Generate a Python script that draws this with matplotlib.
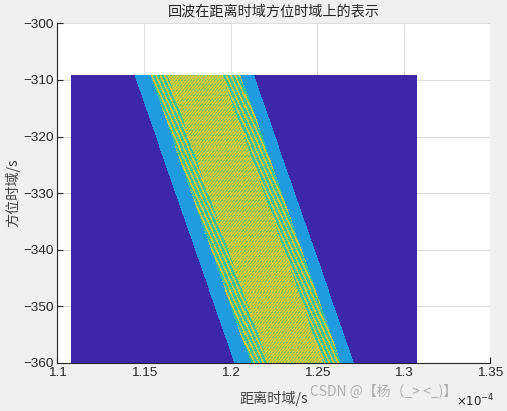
import numpy as np
import matplotlib.pyplot as plt
from matplotlib.colors import LinearSegmentedColormap

# axis ranges / ticks
x_ticks = [1.1, 1.15, 1.2, 1.25, 1.3, 1.35]
y_ticks = [-360, -350, -340, -330, -320, -310, -300]

# image extent (range time x1e-4 s, azimuth time s)
img_x = [1.1076, 1.3072]
img_y = [-360.0, -309.2]

# band edges at the top row (x1e-4 s) and drift to the bottom row
edges_top = [1.1442, 1.1535, 1.1633, 1.1951, 1.2055, 1.2130]
edge_drift = 0.0578
# level in each zone: outside, light blue, stripes, centre, stripes, light blue
zone_level = [0.0, 0.27, 0.52, 0.84, 0.52, 0.27, 0.0]

parula = LinearSegmentedColormap.from_list('parula', [
    (0.00, (0.2422, 0.1504, 0.6603)),
    (0.12, (0.2783, 0.3323, 0.9709)),
    (0.25, (0.1300, 0.5900, 0.9000)),
    (0.38, (0.0650, 0.7190, 0.8000)),
    (0.50, (0.1800, 0.7600, 0.6300)),
    (0.62, (0.4700, 0.7800, 0.4300)),
    (0.75, (0.7800, 0.7600, 0.2400)),
    (0.87, (0.9300, 0.7800, 0.2000)),
    (1.00, (0.9769, 0.9839, 0.0805)),
])

nx, ny = 345, 286
xs = np.linspace(img_x[0], img_x[1], nx)
ys = np.linspace(0, 1, ny)  # 0 = top row
X, T = np.meshgrid(xs, ys)
I, J = np.meshgrid(np.arange(nx), np.arange(ny))
pos = X - T * edge_drift
zone = np.searchsorted(edges_top, pos)
img = np.array(zone_level)[zone]

# stripe texture in the striped zones and fine texture in the centre
phase = ((I - 0.45 * J) % 4.4) < 1.8
stripe = (zone == 2) | (zone == 4)
img[stripe & phase] = 0.84
centre = zone == 3
fine = ((I + 0.8 * J) % 3.0) < 1.2
img[centre & fine] = 0.66
img[centre & phase & ~fine] = 0.88

fig = plt.figure(figsize=(5.07, 4.11), dpi=100, facecolor='#f0f0f0')
ax = fig.add_axes([0.1134, 0.1168, 0.8531, 0.8265])
ax.set_facecolor('white')
ax.imshow(img, cmap=parula, vmin=0, vmax=1, aspect='auto', origin='upper',
          extent=[img_x[0], img_x[1], img_y[0], img_y[1]],
          interpolation='nearest', zorder=2)

ax.set_xlim(1.1, 1.35)
ax.set_ylim(-360, -300)
ax.set_xticks(x_ticks)
ax.set_xticklabels(['1.1', '1.15', '1.2', '1.25', '1.3', '1.35'])
ax.set_yticks(y_ticks)
ax.grid(True, color='#dcdcdc', linewidth=0.8, zorder=0)
ax.set_axisbelow(True)
for s in ['top', 'right']:
    ax.spines[s].set_visible(False)
for s in ['left', 'bottom']:
    ax.spines[s].set_color('#262626')
    ax.spines[s].set_linewidth(0.8)
    ax.spines[s].set_zorder(3)
ax.tick_params(direction='in', length=4, width=0.8, colors='#262626',
               labelsize=9.7, pad=3)
for lab in ax.get_xticklabels() + ax.get_yticklabels():
    lab.set_family(['Liberation Sans', 'DejaVu Sans'])

cjk = ['Noto Sans CJK SC', 'DejaVu Sans']
fig.text(0.54, 0.971, '回波在距离时域方位时域上的表示', family=cjk,
         fontsize=10.2, color='#262626', ha='center', va='center')
fig.text(0.54, 0.032, '距离时域/s', family=cjk, fontsize=10.2,
         color='#404040', ha='center', va='center')
fig.text(0.026, 0.53, '方位时域/s', family=cjk, fontsize=10.2,
         color='#404040', ha='center', va='center', rotation=90)
fig.text(0.900, 0.004, r'$\times10^{-4}$', fontsize=8.5, color='#262626',
         ha='left', va='bottom', family=['Liberation Sans', 'DejaVu Sans'])
fig.text(0.612, 0.050, 'CSDN @【杨（_> <_)】', family=cjk, fontsize=10,
         color='#a0a0a0', alpha=0.8, ha='left', va='center')

fig.savefig('out.png', dpi=100, facecolor=fig.get_facecolor())
